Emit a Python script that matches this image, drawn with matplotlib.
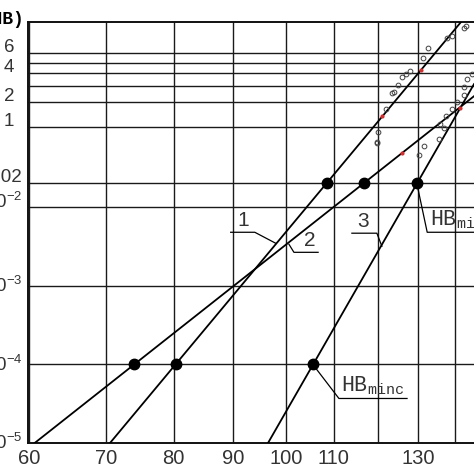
import numpy as np
import matplotlib
matplotlib.use('Agg')
import matplotlib.pyplot as plt
from matplotlib.ticker import NullFormatter

plt.rcParams['font.family'] = ['Liberation Sans', 'DejaVu Sans']
plt.rcParams['mathtext.fontset'] = 'custom'
plt.rcParams['mathtext.rm'] = 'Liberation Mono'
plt.rcParams['mathtext.it'] = 'Liberation Mono:italic'
plt.rcParams['mathtext.bf'] = 'Liberation Mono:bold'
plt.rcParams['mathtext.sf'] = 'Liberation Sans'

# straight lines 1, 2, 3 (ends read where they leave the frame)
line1_x = [70.5, 141.6]
line1_p = [1e-5, 0.9]
line2_x = [60.7, 145.3]
line2_p = [1e-5, 0.230]
line3_x = [96.5, 145.3]
line3_p = [1e-5, 0.311]

# big black points on the lines
dot_x = [73.9, 80.4, 105.5, 108.5, 116.8, 129.7]
dot_p = [1e-4, 1e-4, 1e-4, 0.02, 0.02, 0.02]

# measured points (small open circles)
obs1_x = [143.0, 142.5, 139.1, 137.7, 132.6, 131.3, 128.0, 127.0, 125.9,
          124.9, 124.0, 123.5, 122.0, 120.1, 119.8, 119.8, 131.6, 130.3]
obs1_p = [0.870, 0.854, 0.782, 0.762, 0.657, 0.550, 0.420, 0.393, 0.367,
          0.303, 0.255, 0.249, 0.163, 0.0869, 0.0655, 0.0637, 0.0585, 0.0452]
obs2_x = [144.7, 143.3, 142.5, 142.5, 140.5, 139.1, 137.5, 135.8, 136.9, 135.6]
obs2_p = [0.393, 0.350, 0.289, 0.236, 0.197, 0.163, 0.135, 0.1086, 0.0971, 0.0713]

# red marks on lines 1 and 2
red_x = [121.0, 130.8, 125.9, 141.3]
red_p = [0.135, 0.429, 0.0478, 0.168]

xtick_vals = [60, 70, 80, 90, 100, 110, 130]
xgrid_minor = [120, 140]
ylab_vals = [1e-5, 1e-4, 1e-3, 1e-2, 0.02, 0.1, 0.2, 0.4, 0.6]
ylab_txt = [r'$\mathsf{10^{-5}}$', r'$\mathsf{10^{-4}}$', r'$\mathsf{10^{-3}}$',
            r'$\mathsf{10^{-2}}$', '0.02', '1', '2', '4', '6']
ygrid_vals = [1e-4, 1e-3, 1e-2, 0.02, 0.1, 0.2, 0.3, 0.4, 0.5, 0.6]


def fwd(p):
    p = np.clip(p, 1e-15, 1 - 1e-15)
    return np.log(-np.log1p(-p))


def inv(u):
    return -np.expm1(-np.exp(u))


fig = plt.figure(figsize=(4.74, 4.74), dpi=100)
ax = fig.add_axes([28 / 474, 31 / 474, 446 / 474, 421 / 474])
ax.set_xscale('log')
ax.set_yscale('function', functions=(fwd, inv))
ax.set_xlim(59.9, 145.3)
ax.set_ylim(1e-5, 0.9)

ax.set_xticks(xtick_vals, labels=[str(v) for v in xtick_vals])
ax.set_xticks(xgrid_minor, minor=True)
ax.xaxis.set_minor_formatter(NullFormatter())
ax.set_yticks(ygrid_vals)
ax.set_yticks([], minor=True)
ax.tick_params(which='both', length=0)
ax.tick_params(axis='x', labelsize=14.5, pad=4, labelcolor='#333333')
ax.tick_params(axis='y', labelleft=False)
ax.grid(True, which='both', color='#1a1a1a', lw=1.0)
ax.set_axisbelow(True)
ax.spines['right'].set_visible(False)
for s in ['left', 'bottom', 'top']:
    ax.spines[s].set_linewidth(1.4)
    ax.spines[s].set_color('#111111')

# y labels, cropped at the left edge like the source
for v, t in zip(ylab_vals, ylab_txt):
    dx = -10 if len(t) == 1 else -4
    dy = 4 if v >= 0.01 else 0
    ax.annotate(t, xy=(0, v), xycoords=ax.get_yaxis_transform(),
                xytext=(dx, dy), textcoords='offset points',
                ha='right', va='center', fontsize=13.5, color='#333333')

fig.text(24 / 474, 1 - 19 / 474, 'F(HB)', ha='right', va='center',
         family='Liberation Mono', fontweight='bold', fontsize=13)

lk = dict(color='black', lw=1.3, zorder=3)
ax.plot(line1_x, line1_p, **lk)
ax.plot(line2_x, line2_p, **lk)
ax.plot(line3_x, line3_p, **lk)

ax.plot(red_x, red_p, 'o', color='#d03030', ms=3, mew=0, zorder=4)
ax.plot(obs1_x, obs1_p, 'o', mfc='none', mec='#404040', ms=3.4, mew=0.7, zorder=4)
ax.plot(obs2_x, obs2_p, 'o', mfc='none', mec='#404040', ms=3.4, mew=0.7, zorder=4)
ax.plot(dot_x, dot_p, 'o', color='black', ms=7.5, zorder=5)

# leader lines and labels
ld = dict(color='black', lw=0.9, zorder=3)
ax.plot([89.6, 94.0, 98.0], [0.00482, 0.00482, 0.00349], **ld)
ax.text(91.8, 0.0051, '1', ha='center', va='bottom', fontsize=15, color='#333333')
ax.plot([100.6, 101.6, 106.6], [0.00339, 0.00268, 0.00268], **ld)
ax.text(104.8, 0.00285, '2', ha='center', va='bottom', fontsize=15, color='#333333')
ax.plot([114.0, 119.8, 121.0], [0.00469, 0.00469, 0.00320], **ld)
ax.text(116.5, 0.0050, '3', ha='center', va='bottom', fontsize=15, color='#333333')

ax.plot([129.7, 132.4, 146.0], [0.02, 0.00482, 0.00482], **ld)
ax.text(133.2, 0.0050, r'$\mathrm{HB}_{\mathrm{min}}$', ha='left', va='bottom',
        fontsize=15.5, color='#333333')
ax.plot([105.5, 111.1, 127.2], [1e-4, 3.69e-5, 3.69e-5], **ld)
ax.text(111.6, 3.85e-5, r'$\mathrm{HB}_{\mathrm{minc}}$', ha='left', va='bottom',
        fontsize=15.5, color='#333333')

fig.savefig('out.png', dpi=100)
